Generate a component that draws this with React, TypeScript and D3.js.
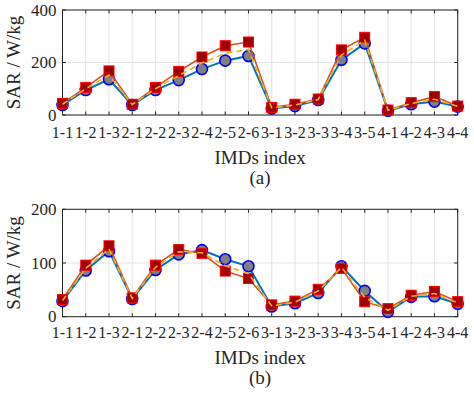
import React from "react";
import * as d3 from "d3";

const categories = [
  "1-1", "1-2", "1-3", "2-1", "2-2", "2-3", "2-4", "2-5", "2-6",
  "3-1", "3-2", "3-3", "3-4", "3-5", "4-1", "4-2", "4-3", "4-4",
];

// panel (a)
const circlesA = [38, 95, 136, 38, 95, 133, 175, 207, 225, 25, 34, 57, 210, 273, 16, 41, 51, 32];
const squaresA = [44, 105, 168, 41, 105, 166, 221, 264, 278, 29, 41, 61, 248, 296, 19, 47, 70, 34];
const dashedA = [41, 100, 152, 40, 100, 150, 198, 235, 250, 27, 38, 59, 228, 285, 18, 44, 60, 33];
const ticksA = [0, 200, 400];

// panel (b)
const circlesB = [29, 86, 122, 33, 87, 116, 124, 107, 94, 19, 25, 44, 94, 48, 9, 37, 38, 24];
const squaresB = [32, 96, 132, 35, 96, 125, 118, 85, 71, 22, 29, 51, 90, 28, 15, 40, 47, 28];
const dashedB = [30, 90, 126, 34, 92, 121, 119, 95, 80, 20, 27, 48, 92, 36, 12, 38, 43, 26];
const ticksB = [0, 100, 200];

const FONT = '"Liberation Serif", Tinos, "Times New Roman", Times, "DejaVu Serif", serif';
const W = 474;
const H = 395;
const left = 62.5;
const right = 457.7;
const ink = "#262626";

interface PanelProps {
  top: number;
  bottom: number;
  yMax: number;
  yTicks: number[];
  circles: number[];
  squares: number[];
  dashed: number[];
  caption: string;
  captionY: number;
  titleY: number;
  tickLabelY: number;
}

function Panel({ top, bottom, yMax, yTicks, circles, squares, dashed, caption, captionY, titleY, tickLabelY }: PanelProps) {
  const x = d3.scaleLinear().domain([0, categories.length - 1]).range([left, right]);
  const y = d3.scaleLinear().domain([0, yMax]).range([bottom, top]);
  const line = d3
    .line<number>()
    .x((_, i) => x(i))
    .y((d) => y(d));
  const tl = 3.5;
  const txt = { fontFamily: FONT };

  return (
    <g>
      {/* grid */}
      {categories.map((_, i) => (
        <line key={"gx" + i} x1={x(i)} x2={x(i)} y1={top} y2={bottom} stroke="#dcdcdc" strokeWidth={0.8} />
      ))}
      {yTicks.map((t) => (
        <line key={"gy" + t} x1={left} x2={right} y1={y(t)} y2={y(t)} stroke="#dcdcdc" strokeWidth={0.8} />
      ))}
      {/* ticks */}
      {categories.map((_, i) => (
        <g key={"tx" + i}>
          <line x1={x(i)} x2={x(i)} y1={bottom} y2={bottom - tl} stroke={ink} strokeWidth={1} />
          <line x1={x(i)} x2={x(i)} y1={top} y2={top + tl} stroke={ink} strokeWidth={1} />
        </g>
      ))}
      {yTicks.map((t) => (
        <g key={"ty" + t}>
          <line x1={left} x2={left + tl} y1={y(t)} y2={y(t)} stroke={ink} strokeWidth={1} />
          <line x1={right} x2={right - tl} y1={y(t)} y2={y(t)} stroke={ink} strokeWidth={1} />
        </g>
      ))}
      <rect x={left} y={top} width={right - left} height={bottom - top} fill="none" stroke={ink} strokeWidth={1} />

      {/* series: blue circles */}
      <path d={line(circles) || ""} fill="none" stroke="#0072BD" strokeWidth={2} />
      {circles.map((v, i) => (
        <circle key={"c" + i} cx={x(i)} cy={y(v)} r={5.5} fill="#808080" stroke="#0000FF" strokeWidth={1.6} />
      ))}
      {/* series: red squares */}
      <path d={line(squares) || ""} fill="none" stroke="#D95319" strokeWidth={1.6} />
      {squares.map((v, i) => (
        <rect key={"s" + i} x={x(i) - 5} y={y(v) - 5} width={10} height={10} fill="#A00000" stroke="#FF0000" strokeWidth={1} />
      ))}
      {/* series: yellow dashed */}
      <path d={line(dashed) || ""} fill="none" stroke="#EDB120" strokeWidth={1.6} strokeDasharray="6,4" />

      {/* labels */}
      {yTicks.map((t) => (
        <text key={"ly" + t} x={left - 6} y={y(t) + 5.5} textAnchor="end" style={txt} fontSize={17} fill={ink}>
          {t}
        </text>
      ))}
      {categories.map((c, i) => (
        <text key={"lx" + i} x={x(i)} y={tickLabelY} textAnchor="middle" style={txt} fontSize={16} fill={ink}>
          {c}
        </text>
      ))}
      <text x={(left + right) / 2} y={titleY} textAnchor="middle" style={txt} fontSize={19} fill={ink}>
        IMDs index
      </text>
      <text x={(left + right) / 2} y={captionY} textAnchor="middle" style={txt} fontSize={19} fill={ink}>
        {caption}
      </text>
      <text
        transform={`translate(19.5,${(top + bottom) / 2}) rotate(-90)`}
        textAnchor="middle"
        style={txt}
        fontSize={19}
        fill={ink}
      >
        SAR / W/kg
      </text>
    </g>
  );
}

export default function App() {
  return (
    <svg width={W} height={H} style={{ position: "absolute", left: 0, top: 0, background: "#fff" }}>
      <rect width={W} height={H} fill="#fff" />
      <Panel
        top={10}
        bottom={115}
        yMax={400}
        yTicks={ticksA}
        circles={circlesA}
        squares={squaresA}
        dashed={dashedA}
        caption="(a)"
        tickLabelY={138}
        titleY={164}
        captionY={184}
      />
      <Panel
        top={209.3}
        bottom={316.7}
        yMax={200}
        yTicks={ticksB}
        circles={circlesB}
        squares={squaresB}
        dashed={dashedB}
        caption="(b)"
        tickLabelY={338}
        titleY={364}
        captionY={384}
      />
    </svg>
  );
}
